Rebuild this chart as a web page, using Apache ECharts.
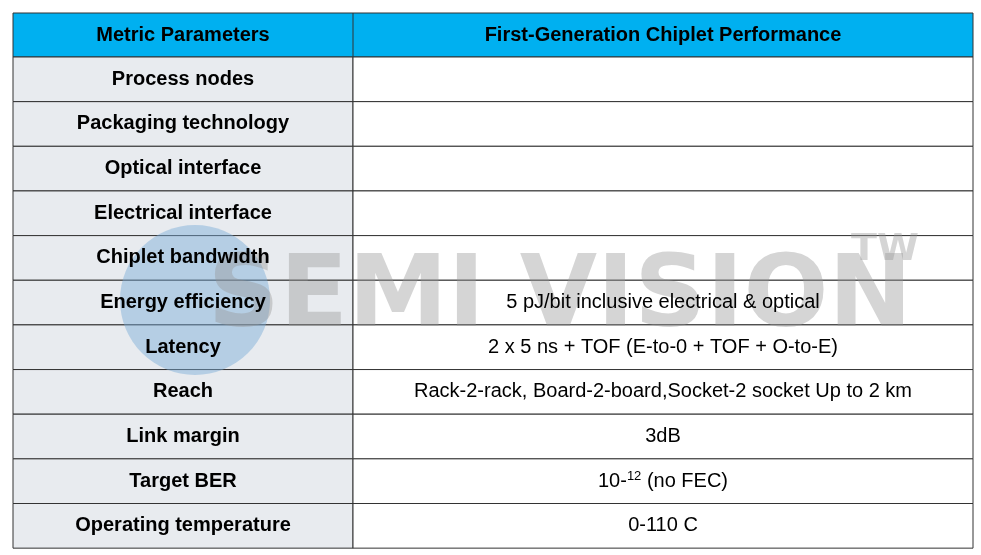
<!DOCTYPE html>
<html>
<head>
<meta charset="utf-8">
<script src="https://cdn.jsdelivr.net/npm/echarts@6/dist/echarts.min.js"></script>
<style>html,body{margin:0;padding:0;background:#fff}#chart{width:981px;height:555px}</style>
</head>
<body>
<div id="chart"></div>
<script>
var headers = ['Metric Parameters', 'First-Generation Chiplet Performance'];
var metrics = ['Process nodes', 'Packaging technology', 'Optical interface', 'Electrical interface',
	'Chiplet bandwidth', 'Energy efficiency', 'Latency', 'Reach', 'Link margin', 'Target BER',
	'Operating temperature'];
var values = ['', '', '', '', '', '5 pJ/bit inclusive electrical & optical',
	'2 x 5 ns + TOF (E-to-0 + TOF + O-to-E)',
	'Rack-2-rack, Board-2-board,Socket-2 socket Up to 2 km', '3dB',
	'10-{sup|12} (no FEC)', '0-110 C'];

(function() {
	var chart = echarts.init(document.getElementById('chart'));

	var x0 = 13, xm = 353, x1 = 973, y0 = 13, headH = 44, rowH = 44.65;
	var els = [];

	// watermark
	els.push({type: 'circle', shape: {cx: 195, cy: 300, r: 75}, style: {fill: 'rgba(120,170,215,0.45)'}, z: 1});
	els.push({type: 'text', x: 560, y: 300, style: {text: 'SEMI VISION', font: 'bold 100px "DejaVu Sans"', fill: 'rgba(150,150,150,0.4)', align: 'center', verticalAlign: 'middle'}, z: 1});
	els.push({type: 'text', x: 885, y: 250, style: {text: 'TW', font: 'bold 38px "DejaVu Sans"', fill: 'rgba(150,150,150,0.4)', align: 'center', verticalAlign: 'middle'}, z: 1});

	// header
	els.push({type: 'rect', shape: {x: x0, y: y0, width: x1 - x0, height: headH}, style: {fill: '#00B0F0', stroke: '#333', lineWidth: 1}, z: 0});
	els.push({type: 'line', shape: {x1: xm, y1: y0, x2: xm, y2: y0 + headH}, style: {stroke: '#333'}, z: 2});
	els.push({type: 'text', x: (x0 + xm) / 2, y: y0 + headH / 2, style: {text: headers[0], font: 'bold 20px "Liberation Sans"', fill: '#000', align: 'center', verticalAlign: 'middle'}, z: 3});
	els.push({type: 'text', x: (xm + x1) / 2, y: y0 + headH / 2, style: {text: headers[1], font: 'bold 20px "Liberation Sans"', fill: '#000', align: 'center', verticalAlign: 'middle'}, z: 3});

	for (var i = 0; i < metrics.length; i++) {
		var y = y0 + headH + i * rowH;
		els.push({type: 'rect', shape: {x: x0, y: y, width: xm - x0, height: rowH}, style: {fill: '#E8EBEF', stroke: '#333', lineWidth: 1}, z: 0});
		els.push({type: 'rect', shape: {x: xm, y: y, width: x1 - xm, height: rowH}, style: {fill: '#fff', stroke: '#333', lineWidth: 1}, z: 0});
		els.push({type: 'text', x: (x0 + xm) / 2, y: y + rowH / 2, style: {text: metrics[i], font: 'bold 20px "Liberation Sans"', fill: '#000', align: 'center', verticalAlign: 'middle'}, z: 3});
		els.push({type: 'text', x: (xm + x1) / 2, y: y + rowH / 2, style: {text: values[i], font: '20px "Liberation Sans"', fill: '#000', align: 'center', verticalAlign: 'middle',
			rich: {sup: {font: '13px "Liberation Sans"', fill: '#000', verticalAlign: 'top', padding: [0, 0, 10, 0]}}}, z: 3});
	}

	chart.setOption({graphic: {elements: els}});
})();
</script>
</body>
</html>
